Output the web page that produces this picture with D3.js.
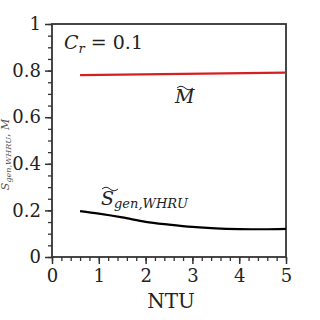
<!DOCTYPE html>
<html><head><meta charset="utf-8">
<script src="https://cdn.jsdelivr.net/npm/d3@7"></script>
<style>body{margin:0;background:#fff}svg{display:block}
svg text{font-family:"DejaVu Serif","Liberation Serif","Times New Roman",serif}</style>
</head><body>
<script>
const ntuM = [0.6, 5];
const valM = [0.781, 0.791];
const ntuS = [0.6, 1, 1.5, 2, 2.5, 3, 3.5, 4, 4.5, 5];
const valS = [0.197, 0.186, 0.170, 0.151, 0.139, 0.129, 0.123, 0.120, 0.119, 0.121];
const xTicks = [0, 1, 2, 3, 4, 5];
const yTicks = [0, 0.2, 0.4, 0.6, 0.8, 1];
const yTickLabels = ["0", "0.2", "0.4", "0.6", "0.8", "1"];

const W = 320, H = 320;
const m = {l: 52, r: 34, t: 24, b: 63};
const svg = d3.select("body").append("svg").attr("width", W).attr("height", H);
const x = d3.scaleLinear().domain([0, 5]).range([m.l, W - m.r]);
const y = d3.scaleLinear().domain([0, 1]).range([H - m.b, m.t]);
const ax = "#333";

svg.append("rect").attr("x", x(0)).attr("y", y(1)).attr("width", x(5) - x(0)).attr("height", y(0) - y(1))
  .attr("fill", "none").attr("stroke", ax).attr("stroke-width", 1.8);

const xMinor = d3.range(0, 5.001, 0.2);
svg.append("g").attr("transform", `translate(0,${y(0)})`)
  .call(d3.axisBottom(x).tickValues(xMinor).tickSize(4).tickFormat(""))
  .call(g => { g.select(".domain").remove(); g.selectAll("line").attr("stroke", ax).attr("stroke-width", 1.3); });
svg.append("g").attr("transform", `translate(0,${y(0)})`)
  .call(d3.axisBottom(x).tickValues(xTicks).tickSize(7).tickPadding(5).tickFormat(d3.format("d")))
  .call(g => { g.select(".domain").remove(); g.selectAll("line").attr("stroke", ax).attr("stroke-width", 1.5);
    g.selectAll("text").attr("font-size", 18).attr("fill", "#222"); });

const yMinor = d3.range(0, 1.0001, 0.05);
svg.append("g").attr("transform", `translate(${x(0)},0)`)
  .call(d3.axisLeft(y).tickValues(yMinor).tickSize(4).tickFormat(""))
  .call(g => { g.select(".domain").remove(); g.selectAll("line").attr("stroke", ax).attr("stroke-width", 1.3); });
svg.append("g").attr("transform", `translate(${x(0)},0)`)
  .call(d3.axisLeft(y).tickValues(yTicks).tickSize(7).tickPadding(4).tickFormat((d, i) => yTickLabels[i]))
  .call(g => { g.select(".domain").remove(); g.selectAll("line").attr("stroke", ax).attr("stroke-width", 1.5);
    g.selectAll("text").attr("font-size", 18).attr("fill", "#222"); });

svg.append("text").attr("x", (x(0) + x(5)) / 2 + 2).attr("y", 308).attr("text-anchor", "middle")
  .attr("font-size", 20).attr("fill", "#222").text("NTU");

const yl = svg.append("text").attr("transform", `translate(9,${(y(0) + y(1)) / 2 + 14}) rotate(-90)`)
  .attr("text-anchor", "middle").attr("font-size", 11).attr("fill", "#555");
yl.append("tspan").attr("font-style", "italic").text("S");
yl.append("tspan").attr("font-style", "italic").attr("font-size", 8).attr("dy", 2).text("gen,WHRU");
yl.append("tspan").attr("dy", -2).text(", ");
yl.append("tspan").attr("font-style", "italic").text("M");

const lineM = d3.line().x(d => x(d[0])).y(d => y(d[1]));
svg.append("path").datum(ntuM.map((d, i) => [d, valM[i]])).attr("d", lineM)
  .attr("fill", "none").attr("stroke", "#d62020").attr("stroke-width", 2.2);
const lineS = d3.line().x(d => x(d[0])).y(d => y(d[1])).curve(d3.curveMonotoneX);
svg.append("path").datum(ntuS.map((d, i) => [d, valS[i]])).attr("d", lineS)
  .attr("fill", "none").attr("stroke", "#000").attr("stroke-width", 2.2);

const cr = svg.append("text").attr("x", 64).attr("y", 49).attr("font-size", 19).attr("fill", "#222");
cr.append("tspan").attr("font-style", "italic").text("C");
cr.append("tspan").attr("font-style", "italic").attr("font-size", 13).attr("dy", 4).text("r");
cr.append("tspan").attr("dy", -4).text(" = 0.1");

svg.append("text").attr("x", 175).attr("y", 103).attr("font-style", "italic")
  .attr("font-size", 19).attr("fill", "#222").text("M");
svg.append("path").attr("d", "M177,88 q4,-3.5 8,0 t8,0").attr("fill", "none").attr("stroke", "#222").attr("stroke-width", 1);

const sl = svg.append("text").attr("x", 101).attr("y", 205).attr("font-size", 19).attr("fill", "#222");
sl.append("tspan").attr("font-style", "italic").text("S");
sl.append("tspan").attr("font-style", "italic").attr("font-size", 13).attr("dy", 3).text("gen,WHRU");
svg.append("path").attr("d", "M102,189 q4,-3.5 8,0 t8,0").attr("fill", "none").attr("stroke", "#222").attr("stroke-width", 1);
</script>
</body></html>
